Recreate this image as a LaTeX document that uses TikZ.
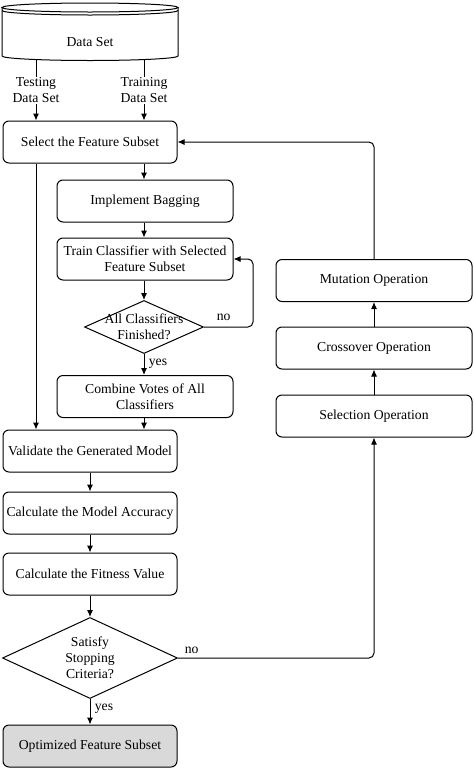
\documentclass[tikz,border=0pt]{standalone}
\usepackage{fontspec}
\setmainfont{Liberation Serif}
\usetikzlibrary{arrows.meta,shapes.geometric}

\begin{document}
\begin{tikzpicture}[x=1pt, y=-1pt, line width=1pt,
		font=\fontsize{13.7}{16.2}\selectfont,
		box/.style={draw, rounded corners=6pt, align=center, inner sep=2pt,
			minimum height=42pt},
		decision/.style={draw, diamond, inner sep=0pt},
		arrow/.style={-{Latex[length=7pt,width=6pt]}}]
		\useasboundingbox (0,0) rectangle (474,769);
		
		% data set cylinder
		\draw (2,7.5) -- (2,56) arc[start angle=180, end angle=360, x radius=88pt, y radius=4.5pt] -- (178,7.5);
		\draw (90,7.5) ellipse [x radius=88pt, y radius=4.5pt];
		\draw (2,10.5) arc[start angle=180, end angle=360, x radius=88pt, y radius=4.5pt];
		\node (data) at (90,42) {Data Set};
		\coordinate (testout) at (36,60);
		\coordinate (trainout) at (144,60);
		
		% main column
		\node[box, minimum width=174pt] (select) at (90,142) {Select the Feature Subset};
		\node[box, minimum width=176pt] (bagging) at (145,201) {Implement Bagging};
		\node[box, minimum width=176pt] (train) at (145,259) {Train Classifier with Selected\\Feature Subset};
		\node[decision, minimum width=119pt, minimum height=53pt] (check) at (144,327) {};
		\node[align=center] (checktext) at (check) {All Classifiers\\Finished?};
		\node[box, minimum width=176pt] (combine) at (145,396.5) {Combine Votes of All\\Classifiers};
		\node[box, minimum width=174pt] (validate) at (90,451) {Validate the Generated Model};
		\node[box, minimum width=174pt] (accuracy) at (90,513) {Calculate the Model Accuracy};
		\node[box, minimum width=174pt] (fitness) at (90,574) {Calculate the Fitness Value};
		\node[decision, minimum width=175pt, minimum height=81pt] (stop) at (90,658) {};
		\node[align=center] (stoptext) at (stop) {Satisfy\\Stopping\\Criteria?};
		\node[box, minimum width=174pt, fill=black!15] (optimized) at (90,746) {Optimized Feature Subset};
		
		% genetic operators
		\node[box, minimum width=196pt] (selection) at (374,416) {Selection Operation};
		\node[box, minimum width=196pt] (crossover) at (374,348) {Crossover Operation};
		\node[box, minimum width=196pt] (mutation) at (374,280.5) {Mutation Operation};
		
		% connectors
		\draw[arrow] (testout) -- node[fill=white, align=center, inner sep=1pt] {Testing\\Data Set} (testout |- select.north);
		\draw[arrow] (trainout) -- node[fill=white, align=center, inner sep=1pt] {Training\\Data Set} (trainout |- select.north);
		\draw[arrow] (select.south -| trainout) -- (bagging.north -| trainout);
		\draw[arrow] (select.south -| testout) -- (validate.north -| testout);
		\draw[arrow] (bagging.south -| trainout) -- (train.north -| trainout);
		\draw[arrow] (train.south -| check) -- (check.north);
		\draw[arrow, rounded corners=5pt] (check.east) -- ++(49,0) node[pos=0.4, above=3pt] {no} |- (train.east);
		\draw[arrow] (check.south) -- node[right=1pt, pos=0.45] {yes} (combine.north -| check);
		\draw[arrow] (combine.south -| check) -- (validate.north -| check);
		\draw[arrow] (validate) -- (accuracy);
		\draw[arrow] (accuracy) -- (fitness);
		\draw[arrow] (fitness) -- (stop);
		\draw[arrow] (stop) -- node[right=1pt, pos=0.4] {yes} (optimized);
		\draw[arrow, rounded corners=5pt] (stop.east) -- node[above=1pt, pos=0.07] {no} (stop.east -| selection) -- (selection.south);
		\draw[arrow] (selection) -- (crossover);
		\draw[arrow] (crossover) -- (mutation);
		\draw[arrow, rounded corners=5pt] (mutation.north) |- (select.east);
	\end{tikzpicture}
\end{document}
